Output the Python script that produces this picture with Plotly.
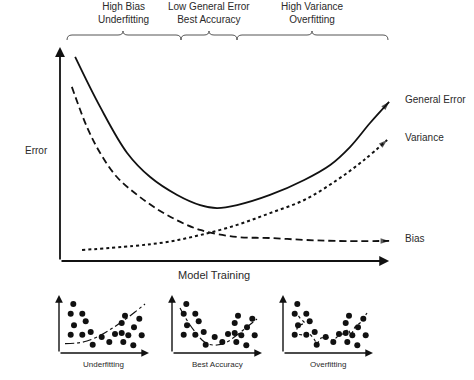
import plotly.graph_objects as go

# ---------------- data ----------------
# main chart (abstract units: training 0..10, error 0..10)
gen_x = [0.46, 1.22, 2.04, 2.74, 3.56, 4.26, 4.77, 5.38, 6.38, 7.42, 8.21, 8.81, 9.42, 10.0]
gen_y = [9.67, 7.30, 5.12, 3.98, 3.13, 2.65, 2.51, 2.65, 3.13, 3.84, 4.55, 5.40, 6.54, 7.54]
var_x = [0.67, 2.22, 3.25, 4.26, 5.38, 6.38, 7.42, 8.42, 9.24, 9.94]
var_y = [0.52, 0.71, 0.90, 1.23, 1.71, 2.27, 2.89, 3.84, 4.79, 5.73]
bias_x = [0.36, 0.82, 1.22, 1.73, 2.43, 3.25, 4.26, 5.38, 6.38, 7.42, 8.42, 10.0]
bias_y = [8.25, 6.35, 5.12, 3.98, 3.03, 2.18, 1.47, 1.14, 1.09, 1.00, 0.95, 0.95]

# sample points shown in the three small panels (same sample in each)
pts_x = [14.3, 11.7, 23.3, 26.7, 15.0, 11.7, 23.3, 31.7, 33.7, 42.7, 50.3,
         56.0, 62.7, 69.3, 64.3, 74.3, 82.7, 75.0, 80.3, 62.7, 66.0]
pts_y = [49.0, 39.3, 39.3, 31.7, 27.7, 18.3, 18.3, 21.0, 8.3, 16.0, 11.0,
         19.0, 20.0, 17.7, 11.0, 7.7, 17.7, 25.7, 34.3, 30.0, 37.3]

# fitted models in the small panels
under_x = [6, 18, 28, 40, 52, 64, 76, 86]
under_y = [9.3, 10, 12, 17, 24, 32, 41, 49]
best_x = [8, 13, 18, 24, 30, 36, 45, 55, 65, 75, 85]
best_y = [45, 36, 28, 20, 13, 9, 8, 11, 18, 26, 34]
over_x = [12, 17, 22, 15, 12, 20, 26, 31, 34, 38, 44, 50, 55, 62, 65, 68, 72, 77, 80, 84]
over_y = [42, 35, 30, 27, 19, 18, 20, 14, 9, 15, 16, 12, 17, 20, 24, 18, 26, 30, 34, 40]

panel_titles = ["Underfitting", "Best Accuracy", "Overfitting"]
region_labels = ["High Bias<br>Underfitting",
                 "Low General Error<br>Best Accuracy",
                 "High Variance<br>Overfitting"]
curve_labels = ["General Error", "Variance", "Bias"]

# ---------------- layout helpers ----------------
W, H = 474, 380
FONT = "Liberation Sans, Arial, sans-serif"
INK = "#111111"
TXT = "#2a2a2a"


def px_x(p):
    return p / W


def px_y(p):
    return 1 - p / H


fig = go.Figure()


def arrow_marker(n, size=9):
    return dict(symbol="arrow", angleref="previous", size=[0] * (n - 1) + [size],
                color=INK, line=dict(width=0))


fig.add_trace(go.Scatter(x=gen_x, y=gen_y, mode="lines+markers", line=dict(color=INK, width=1.8, shape="spline"),
                         marker=arrow_marker(len(gen_x)), xaxis="x", yaxis="y", hoverinfo="skip"))
fig.add_trace(go.Scatter(x=var_x, y=var_y, mode="lines+markers", line=dict(color=INK, width=2, dash="dot", shape="spline"),
                         marker=arrow_marker(len(var_x)), xaxis="x", yaxis="y", hoverinfo="skip"))
fig.add_trace(go.Scatter(x=bias_x, y=bias_y, mode="lines+markers",
                         line=dict(color=INK, width=1.8, dash="7px,4px", shape="spline"),
                         marker=arrow_marker(len(bias_x)), xaxis="x", yaxis="y", hoverinfo="skip"))

fits = [(under_x, under_y, "dashdot"), (best_x, best_y, "dashdot"), (over_x, over_y, "3px,3px")]
for i, (fx, fy, dash) in enumerate(fits):
    ax = "x%d" % (i + 2)
    ay = "y%d" % (i + 2)
    fig.add_trace(go.Scatter(x=fx, y=fy, mode="lines", line=dict(color=INK, width=1.2, dash=dash, shape="spline" if i < 2 else "linear"),
                             xaxis=ax, yaxis=ay, hoverinfo="skip"))
    fig.add_trace(go.Scatter(x=pts_x, y=pts_y, mode="markers", marker=dict(color=INK, size=6),
                             xaxis=ax, yaxis=ay, hoverinfo="skip", cliponaxis=False))

hidden = dict(visible=False, showgrid=False, zeroline=False, fixedrange=True)
layout = dict(
    width=W, height=H, margin=dict(l=0, r=0, t=0, b=0),
    paper_bgcolor="white", plot_bgcolor="rgba(0,0,0,0)", showlegend=False,
    xaxis=dict(hidden, domain=[px_x(60), px_x(400)], range=[0, 10.33]),
    yaxis=dict(hidden, domain=[px_y(261), px_y(47)], range=[0, 10.14]),
    xaxis5=dict(hidden, domain=[0, 1], range=[0, W]),
    yaxis5=dict(hidden, domain=[0, 1], range=[H, 0]),
)
origins = [59, 172, 283]
for i, ox in enumerate(origins):
    layout["xaxis%d" % (i + 2)] = dict(hidden, domain=[px_x(ox), px_x(ox + 91)], range=[0, 91])
    layout["yaxis%d" % (i + 2)] = dict(hidden, domain=[px_y(353), px_y(295)], range=[0, 58])
fig.update_layout(**layout)

ann = []
# main axes arrows
ann.append(dict(x=0, y=10.14, ax=0, ay=0, xref="x", yref="y", axref="x", ayref="y", text="",
                showarrow=True, arrowhead=2, arrowsize=1.1, arrowwidth=1.8, arrowcolor=INK, standoff=0))
ann.append(dict(x=10.0, y=0, ax=0, ay=0, xref="x", yref="y", axref="x", ayref="y", text="",
                showarrow=True, arrowhead=2, arrowsize=1.1, arrowwidth=1.8, arrowcolor=INK, standoff=0))
# small axes arrows
for i in range(3):
    xr, yr = "x%d" % (i + 2), "y%d" % (i + 2)
    ann.append(dict(x=0, y=58, ax=0, ay=0, xref=xr, yref=yr, axref=xr, ayref=yr, text="",
                    showarrow=True, arrowhead=2, arrowsize=1.1, arrowwidth=1.4, arrowcolor=INK, standoff=0))
    ann.append(dict(x=90, y=0, ax=0, ay=0, xref=xr, yref=yr, axref=xr, ayref=yr, text="",
                    showarrow=True, arrowhead=2, arrowsize=1.1, arrowwidth=1.4, arrowcolor=INK, standoff=0))


def label(text, x, y, size=10, xanchor="center"):
    ann.append(dict(text=text, x=px_x(x), y=px_y(y), xref="paper", yref="paper", showarrow=False,
                    xanchor=xanchor, yanchor="middle", font=dict(family=FONT, size=size, color=TXT)))


for t, cx in zip(region_labels, [123, 209, 312]):
    label(t, cx, 13)
for t, cy in zip(curve_labels, [100, 137, 239]):
    label(t, 403, cy, xanchor="left")
label("Error", 36, 150)
label("Model Training", 214, 275, size=11)
for t, cx in zip(panel_titles, [103, 217, 328]):
    label(t, cx, 364, size=8)
fig.update_layout(annotations=ann)

# curly braces over the three regimes
shapes = []
for a, tip, b in [(67, 123, 181), (181, 209, 237), (237, 312, 388)]:
    path = ("M %d,40 Q %d,35 %d,35 L %d,35 Q %d,35 %d,31 Q %d,35 %d,35 L %d,35 Q %d,35 %d,40"
            % (a, a, a + 5, tip - 5, tip, tip, tip, tip + 5, b - 5, b, b))
    shapes.append(dict(type="path", path=path, xref="x5", yref="y5", line=dict(color="#555555", width=1)))
fig.update_layout(shapes=shapes)

fig.write_html("out.html", config={"displayModeBar": False},
               post_script="document.body.style.margin='0';document.body.style.overflow='hidden';")
